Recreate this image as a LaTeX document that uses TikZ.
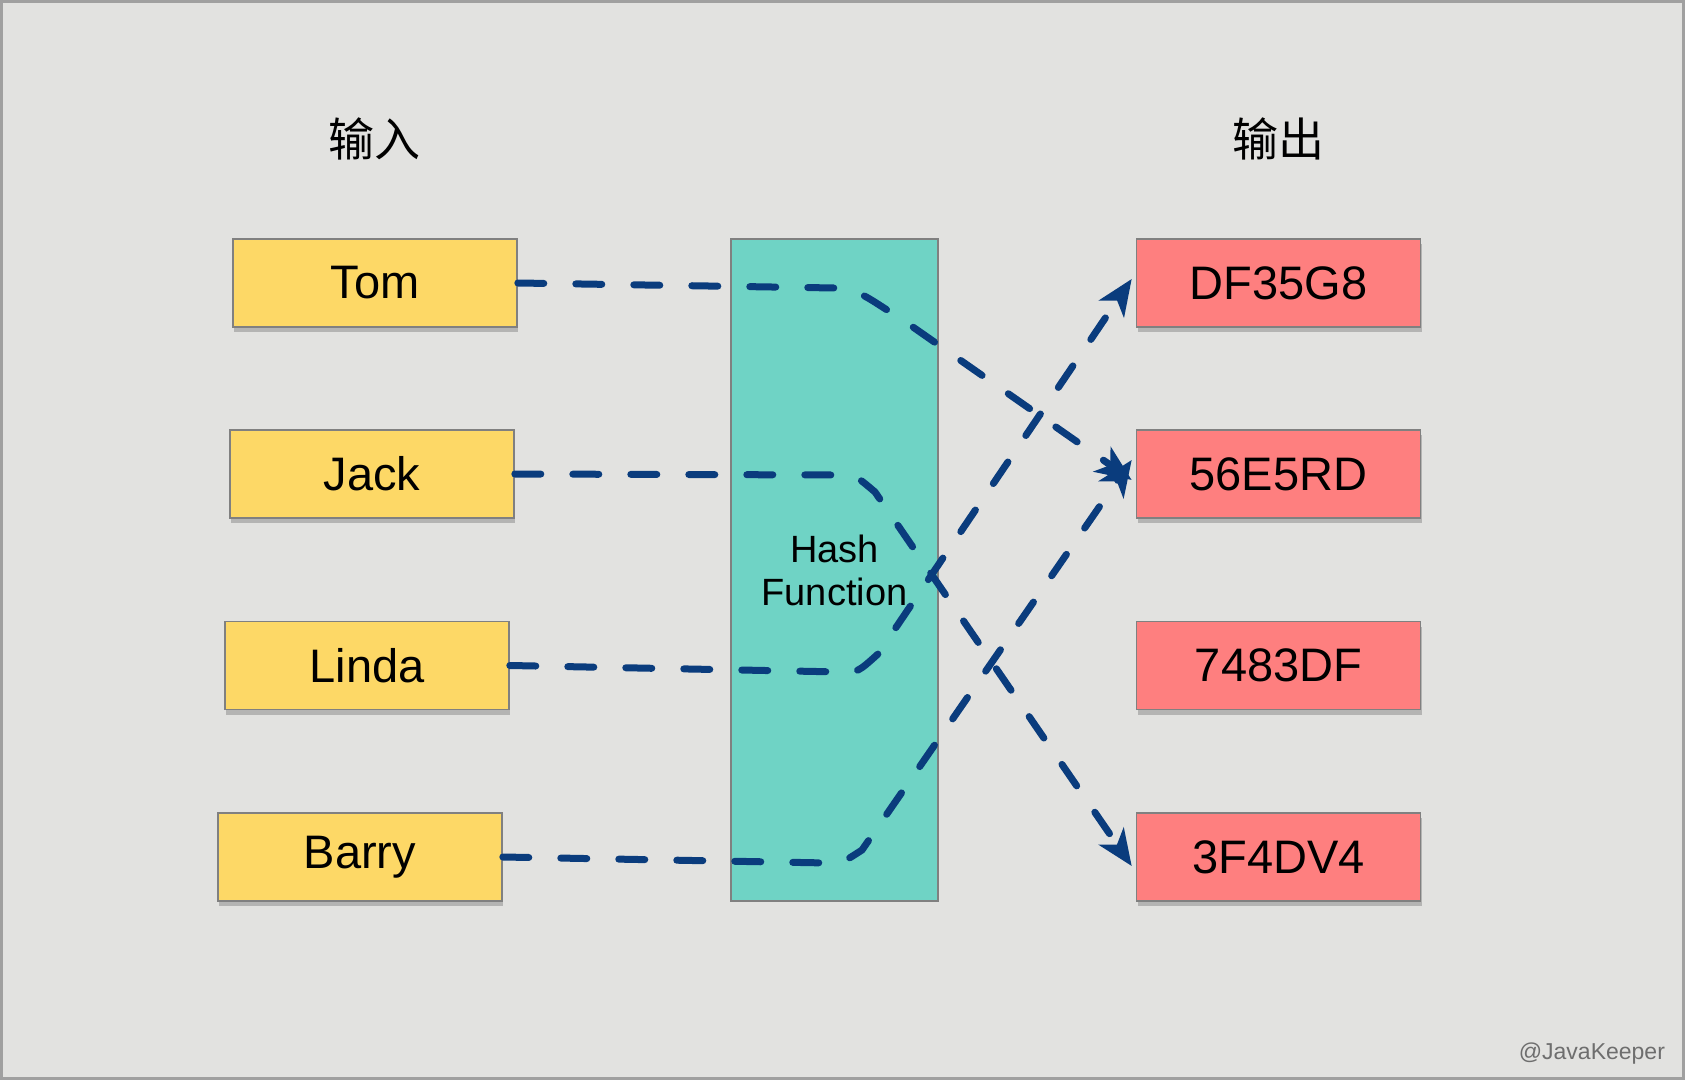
\documentclass[tikz,border=0pt]{standalone}
\usepackage{fontspec}
\setmainfont{Liberation Sans}
\newfontfamily\cjk{Noto Sans CJK SC}
\usetikzlibrary{arrows.meta,shadows}
\definecolor{bgcol}{RGB}{226,226,224}
\definecolor{framecol}{RGB}{160,160,160}
\definecolor{boxline}{RGB}{128,128,128}
\definecolor{inyellow}{RGB}{253,216,102}
\definecolor{outred}{RGB}{254,127,127}
\definecolor{hashteal}{RGB}{111,211,197}
\definecolor{linkblue}{RGB}{10,60,125}
\begin{document}
\begin{tikzpicture}[x=0.5pt,y=-0.5pt,
  inbox/.style={rectangle, draw=boxline, fill=inyellow, line width=0.8pt, minimum width=142pt, minimum height=44pt, inner sep=0pt, font=\fontsize{23.5}{28}\selectfont, drop shadow={shadow xshift=0.5pt, shadow yshift=-2.5pt, fill=black, opacity=0.2}},
  outbox/.style={inbox, fill=outred},
  hashbox/.style={rectangle, draw=boxline, fill=hashteal, line width=0.8pt, minimum width=103.5pt, minimum height=331pt, inner sep=0pt, align=center, font=\fontsize{19}{21.5}\selectfont},
  link/.style={draw=linkblue, line width=3.5pt, line cap=round, dash pattern=on 13pt off 16pt, -{Stealth[length=18pt,width=15pt,inset=5pt]}}]
  \useasboundingbox (0,0) rectangle (1685,1080);
  \fill[bgcol] (0,0) rectangle (1685,1080);
  \draw[framecol, line width=1.4pt] (1.5,1.5) rectangle (1683.5,1078.5);

  \node (tin) at (374,139) {\fontsize{23}{28}\selectfont\cjk 输入};
  \node (tout) at (1278,139) {\fontsize{23}{28}\selectfont\cjk 输出};

  \node[hashbox] (hash) at (834.5,570) {Hash\\Function};

  \node[inbox] (tom) at (375,283) {Tom};
  \node[inbox] (jack) at (372,474) {Jack};
  \node[inbox] (linda) at (367,665.5) {Linda};
  \node[inbox] (barry) at (360,857) {Barry};

  \node[outbox] (odf) at (1278.5,283) {DF35G8};
  \node[outbox] (o56) at (1278.5,474) {56E5RD};
  \node[outbox] (o74) at (1278.5,665.5) {7483DF};
  \node[outbox] (o3f) at (1278.5,857) {3F4DV4};

  \draw[link] (tom.east) -- (835,288) .. controls (860,289) and (870,300) .. (900,318) -- ([xshift=-2pt,yshift=-3pt]o56.west);
  \draw[link] (jack.east) -- (840,475) .. controls (855,475) .. (875,492) -- ([xshift=-2pt,yshift=-4.5pt]o3f.west);
  \draw[link] (linda.east) -- (842,672) .. controls (858,672) .. (878,654) -- ([xshift=-2pt,yshift=2pt]odf.west);
  \draw[link] (barry.east) -- (828,863) .. controls (842,863) .. (862,850) -- ([xshift=-2pt,yshift=7pt]o56.west);

  \node[anchor=east, text=black!57, font=\fontsize{11.5}{14}\selectfont] (mark) at (1672,1054) {@JavaKeeper};
\end{tikzpicture}
\end{document}
